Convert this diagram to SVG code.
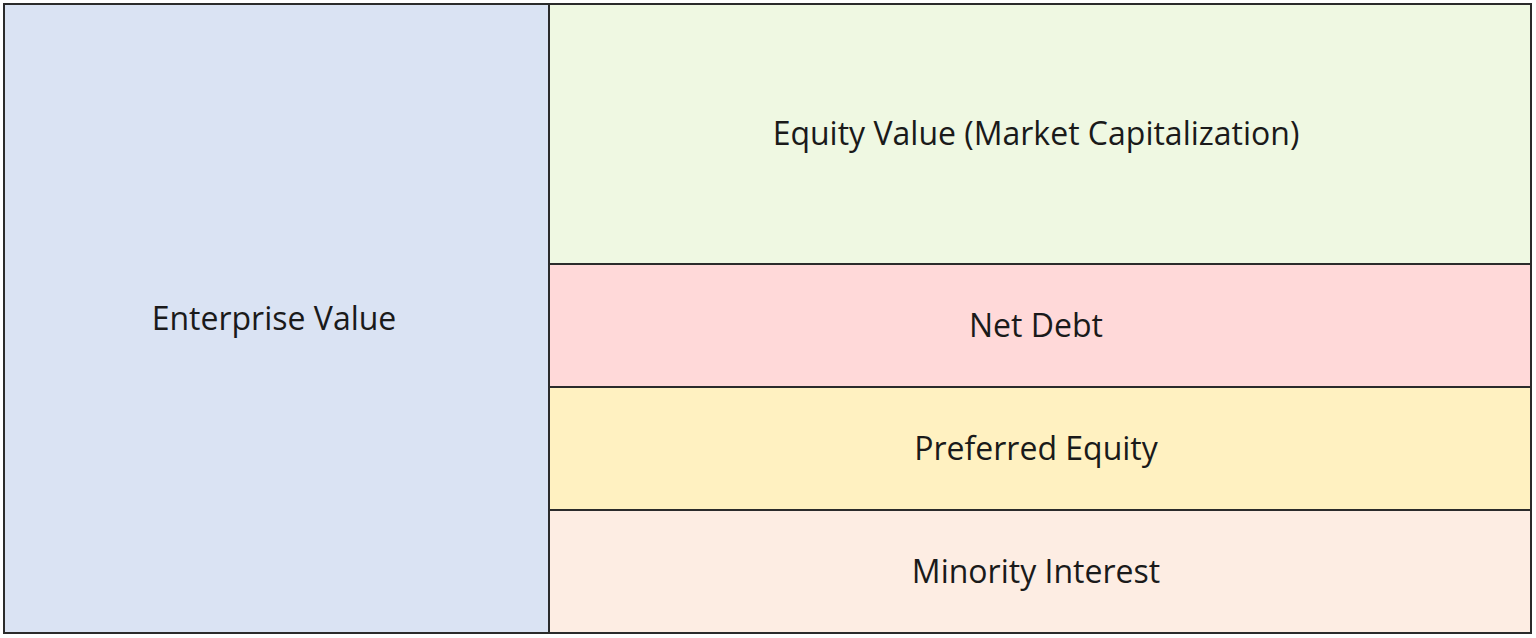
<svg xmlns="http://www.w3.org/2000/svg" width="1536" height="638" viewBox="0 0 1536 638">
<style>
.box{stroke:#2b2b2b;stroke-width:2}
.lbl{font-family:"Open Sans","Noto Sans","Liberation Sans",sans-serif;font-size:32px;fill:#1a1a1a;text-anchor:middle;dominant-baseline:central}
</style>
<rect width="1536" height="638" fill="#ffffff"/>
<g id="enterprise-value"><rect class="box" x="4" y="4" width="545" height="629" fill="#dae3f3"/><text class="lbl" x="274" y="317">Enterprise Value</text></g>
<g id="equity-value"><rect class="box" x="549" y="4" width="982" height="260" fill="#eff8e2"/><text class="lbl" x="1036" y="132">Equity Value (Market Capitalization)</text></g>
<g id="net-debt"><rect class="box" x="549" y="264" width="982" height="123" fill="#ffd9d9"/><text class="lbl" x="1036" y="324">Net Debt</text></g>
<g id="preferred-equity"><rect class="box" x="549" y="387" width="982" height="123" fill="#fff1c1"/><text class="lbl" x="1036" y="447">Preferred Equity</text></g>
<g id="minority-interest"><rect class="box" x="549" y="510" width="982" height="123" fill="#fdede3"/><text class="lbl" x="1036" y="570">Minority Interest</text></g>
<g id="connectors"></g>
</svg>
